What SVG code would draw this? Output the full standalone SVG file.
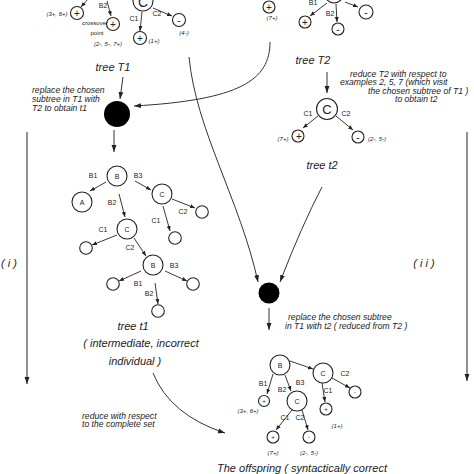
<svg xmlns="http://www.w3.org/2000/svg" width="474" height="474" viewBox="0 0 474 474">
<style>
text{font-family:"Liberation Sans",Arial,sans-serif;fill:#222}
.cap{font-size:11px;font-style:italic}
.note{font-size:8.6px;font-style:italic}
.el{font-size:7px;text-anchor:middle}
.es{font-size:6px;text-anchor:middle}
.ref{font-size:6px;font-style:italic;text-anchor:middle}
.nl{text-anchor:middle}
.n{fill:#fff;stroke:#222;stroke-width:1.1}
.dot{fill:#000}
.c{fill:none;stroke:#222;stroke-width:0.9}
.cb{fill:none;stroke:#333;stroke-width:1}
.v{fill:none;stroke:#555;stroke-width:1.3}
</style>
<defs>
<marker id="a" viewBox="0 0 10 10" refX="10" refY="5" markerWidth="5" markerHeight="5" orient="auto" markerUnits="userSpaceOnUse"><path d="M0,1 L10,5 L0,9 z" fill="#222"/></marker>
<marker id="b" viewBox="0 0 10 10" refX="10" refY="5" markerWidth="7" markerHeight="7" orient="auto" markerUnits="userSpaceOnUse"><path d="M0,1.5 L10,5 L0,8.5 z" fill="#222"/></marker>
</defs>
<rect width="474" height="474" fill="#fff"/>

<g id="connectors">
<line class="c" x1="88" y1="-1" x2="81" y2="7" marker-end="url(#a)"/>
<line class="c" x1="107" y1="1" x2="111" y2="16" marker-end="url(#a)"/>
<line class="c" x1="142" y1="12" x2="140" y2="31" marker-end="url(#a)"/>
<line class="c" x1="153" y1="8" x2="172" y2="16" marker-end="url(#a)"/>
<line class="c" x1="327" y1="3" x2="310" y2="16" marker-end="url(#a)"/>
<line class="c" x1="336" y1="4" x2="337" y2="22" marker-end="url(#a)"/>
<line class="c" x1="345" y1="2" x2="358" y2="7" marker-end="url(#a)"/>
<line class="cb" x1="123" y1="77" x2="120" y2="99" marker-end="url(#b)"/>
<path class="cb" d="M270,42 C270,80 240,100 134,106" marker-end="url(#b)"/>
<path class="cb" d="M189,57 C196,130 240,200 258,282" marker-end="url(#b)"/>
<line class="cb" x1="327" y1="72" x2="327" y2="93" marker-end="url(#b)"/>
<path class="cb" d="M322,187 Q302,225 280,282" marker-end="url(#b)"/>
<line class="cb" x1="114" y1="130" x2="114" y2="152" marker-end="url(#b)"/>
<line class="cb" x1="269" y1="308" x2="269" y2="330" marker-end="url(#b)"/>
<path class="cb" d="M153,373 Q170,415 225,433" marker-end="url(#b)"/>
<line class="v" x1="27" y1="132" x2="27" y2="384" marker-end="url(#b)"/>
<line class="v" x1="467" y1="132" x2="467" y2="381" marker-end="url(#b)"/>
<line class="c" x1="318" y1="116" x2="303" y2="128" marker-end="url(#a)"/>
<line class="c" x1="336" y1="116" x2="353" y2="130" marker-end="url(#a)"/>
<line class="c" x1="106" y1="182" x2="90" y2="191" marker-end="url(#a)"/>
<line class="c" x1="135" y1="181" x2="151" y2="190" marker-end="url(#a)"/>
<line class="c" x1="119" y1="194" x2="125" y2="217" marker-end="url(#a)"/>
<line class="c" x1="172" y1="199" x2="195" y2="208" marker-end="url(#a)"/>
<line class="c" x1="163" y1="206" x2="170" y2="231" marker-end="url(#a)"/>
<line class="c" x1="117" y1="235" x2="92" y2="245" marker-end="url(#a)"/>
<line class="c" x1="134" y1="238" x2="146" y2="256" marker-end="url(#a)"/>
<line class="c" x1="141" y1="271" x2="119" y2="281" marker-end="url(#a)"/>
<line class="c" x1="165" y1="271" x2="187" y2="281" marker-end="url(#a)"/>
<line class="c" x1="155" y1="283" x2="158" y2="304" marker-end="url(#a)"/>
<line class="c" x1="273" y1="374" x2="267" y2="394" marker-end="url(#a)"/>
<line class="c" x1="285" y1="375" x2="291" y2="391" marker-end="url(#a)"/>
<line class="c" x1="290" y1="361" x2="313" y2="369" marker-end="url(#a)"/>
<line class="c" x1="332" y1="378" x2="350" y2="388" marker-end="url(#a)"/>
<line class="c" x1="322" y1="383" x2="325" y2="402" marker-end="url(#a)"/>
<line class="c" x1="292" y1="410" x2="276" y2="430" marker-end="url(#a)"/>
<line class="c" x1="302" y1="410" x2="308" y2="430" marker-end="url(#a)"/>
</g>

<g id="edge-labels">
<text class="el" x="103" y="8">B2</text>
<text class="el" x="134" y="21">C1</text>
<text class="el" x="157" y="16">C2</text>
<text class="el" x="313" y="5">B1</text>
<text class="el" x="330" y="16">B2</text>
<text class="el" x="308" y="116">C1</text>
<text class="el" x="346" y="116">C2</text>
<text class="el" x="93" y="178">B1</text>
<text class="el" x="138" y="178">B3</text>
<text class="el" x="112" y="205">B2</text>
<text class="el" x="183" y="214">C2</text>
<text class="el" x="156" y="223">C1</text>
<text class="el" x="103" y="232">C1</text>
<text class="el" x="130" y="250">C2</text>
<text class="el" x="174" y="268">B3</text>
<text class="el" x="138" y="286">B1</text>
<text class="el" x="149" y="296">B2</text>
<text class="el" x="263" y="386">B1</text>
<text class="el" x="282" y="392">B2</text>
<text class="el" x="300" y="385">B3</text>
<text class="el" x="345" y="376">C2</text>
<text class="el" x="328" y="393">C1</text>
<text class="el" x="285" y="420">C1</text>
<text class="el" x="300" y="420">C2</text>
</g>

<g id="T1-n1"><circle class="n" cx="77" cy="13" r="6.5"/><text class="nl" x="77" y="17" font-size="10">+</text><text class="ref" x="57" y="16">(3+, 6+)</text></g>
<g id="T1-cross"><circle class="n" cx="113" cy="24" r="6.5"/><text class="nl" x="113" y="28" font-size="10">+</text><text class="es" x="95" y="25">crossover</text><text class="es" x="97" y="35">point</text><text class="ref" x="108" y="46">(2-, 5-, 7+)</text></g>
<g id="T1-C"><circle class="n" cx="143" cy="1" r="10"/><text class="nl" x="143" y="7" font-size="14">C</text></g>
<g id="T1-n2"><circle class="n" cx="140" cy="38" r="6.5"/><text class="nl" x="140" y="42" font-size="10">+</text><text class="ref" x="154" y="43">(1+)</text></g>
<g id="T1-n3"><circle class="n" cx="179" cy="20" r="6.5"/><text class="nl" x="179" y="24" font-size="10">-</text><text class="ref" x="184" y="35">(4-)</text></g>
<g id="T1-caption"><text class="cap" x="113" y="71" text-anchor="middle">tree T1</text></g>

<g id="T2-n0"><circle class="n" cx="269" cy="7" r="6"/><text class="nl" x="269" y="11" font-size="10">+</text><text class="ref" x="272" y="20">(7+)</text></g>
<g id="T2-root"><circle class="n" cx="334" cy="-6" r="9"/></g>
<g id="T2-n1"><circle class="n" cx="305" cy="22" r="6"/><text class="nl" x="305" y="26" font-size="10">+</text></g>
<g id="T2-n2"><circle class="n" cx="338" cy="29" r="6"/><text class="nl" x="338" y="33" font-size="10">-</text></g>
<g id="T2-n3"><circle class="n" cx="366" cy="12" r="7"/><text class="nl" x="366" y="16" font-size="10">-</text></g>
<g id="T2-caption"><text class="cap" x="313" y="64" text-anchor="middle">tree T2</text></g>

<g id="op1"><circle class="dot" cx="117" cy="114" r="13"/>
<text class="note" x="32" y="93">replace the chosen</text>
<text class="note" x="32" y="102">subtree in T1 with</text>
<text class="note" x="32" y="111">T2 to obtain t1</text></g>

<g id="reduce-T2">
<text class="note" x="350" y="76.5">reduce T2 with respect to</text>
<text class="note" x="340" y="85">examples 2, 5, 7 (which visit</text>
<text class="note" x="368" y="93.5">the chosen subtree of T1 )</text>
<text class="note" x="395" y="102">to obtain t2</text></g>

<g id="t2-C"><circle class="n" cx="327" cy="109" r="10.5"/><text class="nl" x="327" y="114" font-size="13">C</text></g>
<g id="t2-n1"><circle class="n" cx="298" cy="136" r="6"/><text class="nl" x="299" y="140" font-size="10">+</text><text class="ref" x="283" y="141">(7+)</text></g>
<g id="t2-n2"><circle class="n" cx="358" cy="137" r="6"/><text class="nl" x="358" y="141" font-size="10">-</text><text class="ref" x="377" y="141">(2-, 5-)</text></g>
<g id="t2-caption"><text class="cap" x="322" y="169" text-anchor="middle">tree t2</text></g>

<g id="t1-B"><circle class="n" cx="117" cy="176" r="10"/><text class="el" x="117" y="178.5">B</text></g>
<g id="t1-A"><circle class="n" cx="82" cy="202" r="10"/><text class="el" x="82" y="204.5">A</text></g>
<g id="t1-C1"><circle class="n" cx="162" cy="194" r="10"/><text class="el" x="162" y="196.5">C</text></g>
<g id="t1-C2"><circle class="n" cx="127" cy="229" r="10"/><text class="el" x="127" y="231.5">C</text></g>
<g id="t1-s1"><circle class="n" cx="202" cy="212" r="6.3"/></g>
<g id="t1-s2"><circle class="n" cx="175" cy="238" r="6.3"/></g>
<g id="t1-s3"><circle class="n" cx="86" cy="248" r="6.3"/></g>
<g id="t1-B2"><circle class="n" cx="153" cy="265" r="10"/><text class="el" x="153" y="267.5">B</text></g>
<g id="t1-s4"><circle class="n" cx="113" cy="284" r="6.3"/></g>
<g id="t1-s5"><circle class="n" cx="193" cy="284" r="6.3"/></g>
<g id="t1-s6"><circle class="n" cx="158" cy="311" r="6.3"/></g>
<g id="t1-caption">
<text class="cap" x="133" y="330" text-anchor="middle">tree t1</text>
<text class="cap" x="141" y="347" text-anchor="middle">( intermediate, incorrect</text>
<text class="cap" x="135" y="365" text-anchor="middle">individual )</text></g>

<g id="op2"><circle class="dot" cx="269" cy="293" r="10.5"/>
<text class="note" x="288" y="320">replace the chosen subtree</text>
<text class="note" x="285" y="329">in T1 with t2  ( reduced from T2 )</text></g>

<g id="path-labels">
<text class="cap" x="9" y="267" text-anchor="middle">( i )</text>
<text class="cap" x="424" y="267" text-anchor="middle">( i i )</text>
<text class="note" x="82" y="418.5">reduce with respect</text>
<text class="note" x="82" y="427">to the complete set</text></g>

<g id="o-B"><circle class="n" cx="280" cy="365" r="10"/><text class="el" x="280" y="367.5">B</text></g>
<g id="o-p1"><circle class="n" cx="264" cy="401" r="5.5"/><text class="es" x="264" y="403">+</text><text class="ref" x="248" y="413">(3+, 6+)</text></g>
<g id="o-C1"><circle class="n" cx="297" cy="401" r="10"/><text class="el" x="297" y="403.5">C</text></g>
<g id="o-C2"><circle class="n" cx="323" cy="373" r="10"/><text class="el" x="323" y="375.5">C</text></g>
<g id="o-m1"><circle class="n" cx="355" cy="392" r="6"/><text class="es" x="355" y="394">-</text></g>
<g id="o-p2"><circle class="n" cx="326" cy="409" r="6"/><text class="es" x="326" y="411">+</text><text class="ref" x="337" y="428">(1+)</text></g>
<g id="o-p3"><circle class="n" cx="273" cy="437" r="6"/><text class="es" x="273" y="439">+</text><text class="ref" x="273" y="455">(7+)</text></g>
<g id="o-m2"><circle class="n" cx="309" cy="437" r="6"/><text class="es" x="309" y="439">-</text><text class="ref" x="309" y="455">(2-, 5-)</text></g>
<g id="o-caption"><text class="cap" x="217" y="472">The offspring ( syntactically correct</text></g>
</svg>
